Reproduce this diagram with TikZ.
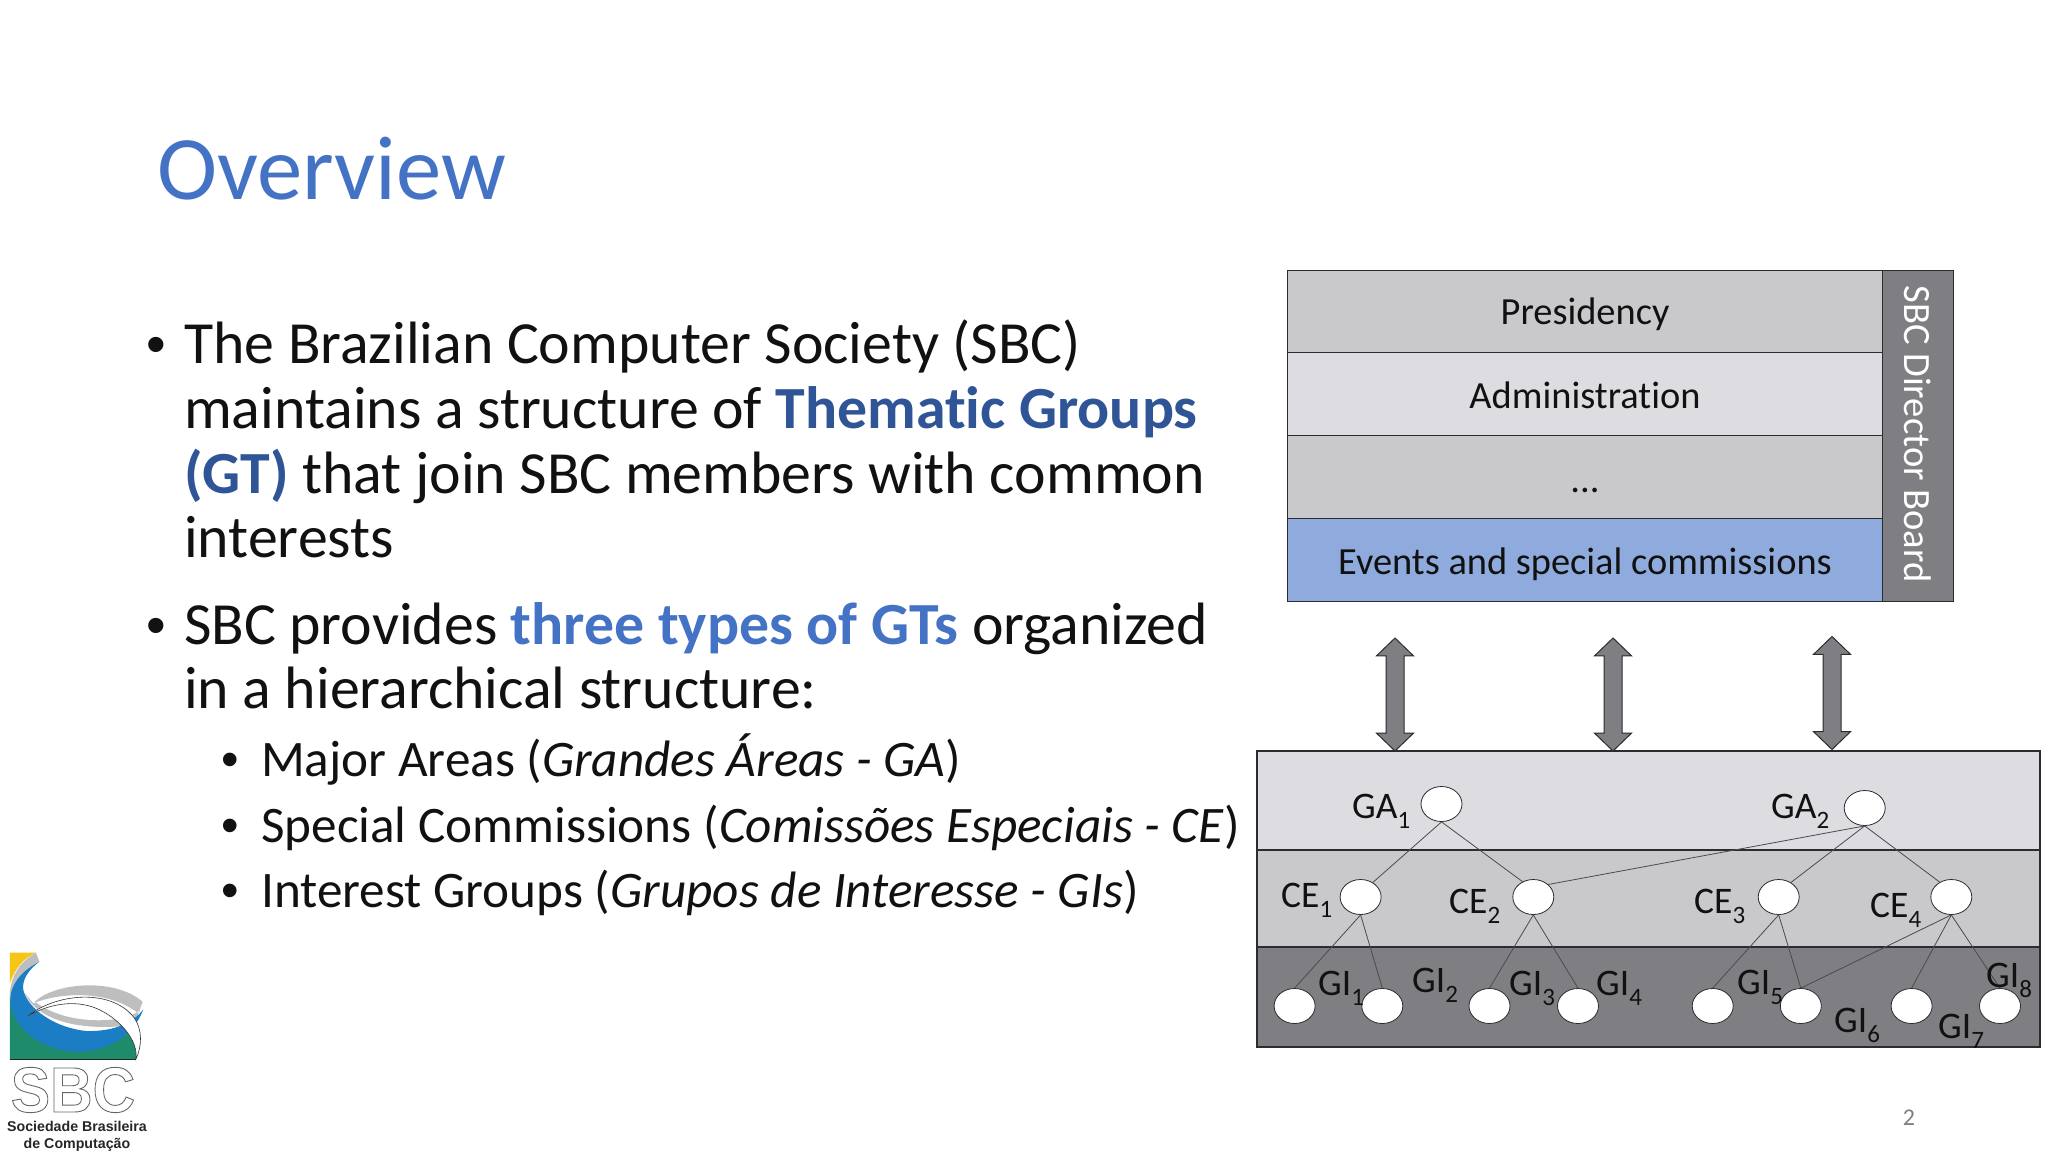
\documentclass[tikz,border=0pt]{standalone}
\usepackage{fontspec}
\setmainfont[Ligatures=NoCommon]{Carlito}
\newfontfamily\logofont{Liberation Sans}
\usetikzlibrary{shapes.geometric,shapes.arrows}
\definecolor{titleblue}{HTML}{4472C4}
\definecolor{darkblue}{HTML}{2F5597}
\definecolor{lightrow}{HTML}{DDDCE0}
\definecolor{midrow}{HTML}{C9C8CB}
\definecolor{darkrow}{HTML}{7F7E82}
\definecolor{eventsrow}{HTML}{8FAADC}
\definecolor{boxline}{HTML}{2B2B30}
\definecolor{ink}{HTML}{111111}
\definecolor{logoyellow}{HTML}{F5C518}
\definecolor{logoblue}{HTML}{1B7DC4}
\definecolor{logogreen}{HTML}{1E8C6A}
\definecolor{logogray}{HTML}{BEBEBE}
\newcommand{\lab}[2]{#1\raisebox{-.28em}{\fontsize{25}{25}\selectfont #2}}
\newcommand{\rowtext}[2]{\raisebox{-#1pt}[0pt][0pt]{#2}}
\tikzset{
  bodyline/.style={anchor=base west,inner sep=0pt,text=ink,font=\fontsize{59.8}{62}\selectfont},
  subline/.style={anchor=base west,inner sep=0pt,text=ink,font=\fontsize{51.2}{54}\selectfont},
  bigdot/.style={anchor=base west,inner sep=0pt,text=ink,font=\logofont\fontsize{56}{58}\selectfont},
  smalldot/.style={anchor=base west,inner sep=0pt,text=ink,font=\logofont\fontsize{50}{52}\selectfont},
  rowbox/.style={draw=boxline,line width=1pt,inner sep=0pt,text=ink,font=\fontsize{38.4}{42}\selectfont},
  levelbox/.style={draw=boxline,line width=1.2pt},
  bothways/.style={double arrow,draw=boxline,line width=1pt,fill=darkrow,inner sep=0pt,rotate=90,
    minimum height=113pt,double arrow head extend=9.5pt,double arrow tip angle=92},
  vertex/.style={ellipse,draw=boxline,line width=.8pt,fill=white,minimum width=41pt,minimum height=35pt,inner sep=0pt},
  tie/.style={draw=boxline!85,line width=.8pt},
  tag/.style={anchor=base west,inner sep=0pt,text=ink,font=\fontsize{37.5}{40}\selectfont}
}
\begin{document}
\begin{tikzpicture}[x=1pt,y=-1pt]
\useasboundingbox (0,0) rectangle (2048,1152);
\fill[white] (0,0) rectangle (2048,1152);
% title
\node[anchor=base west,inner sep=0pt,text=titleblue,font=\fontsize{90.7}{92}\selectfont] (title) at (157,199) {Overview};
% bullets
\node[bigdot] (b1) at (146,363) {•};
\node[bodyline] (l1) at (184,363) {The Brazilian Computer Society (SBC)};
\node[bodyline] (l2) at (184,428) {maintains a structure of \textcolor{darkblue}{\textbf{Thematic Groups}}};
\node[bodyline] (l3) at (184,493) {\textcolor{darkblue}{\textbf{(GT)}} that join SBC members with common};
\node[bodyline] (l4) at (184,557) {interests};
\node[bigdot] (b2) at (146,644) {•};
\node[bodyline] (l5) at (184,644) {SBC provides \textcolor{titleblue}{\textbf{three types of GTs}} organized};
\node[bodyline] (l6) at (184,708) {in a hierarchical structure:};
\node[smalldot] (b3) at (221,776) {•};
\node[subline] (s1) at (261,776) {Major Areas (\textit{Grandes Áreas - GA})};
\node[smalldot] (b4) at (221,842) {•};
\node[subline] (s2) at (261,842) {Special Commissions (\textit{Comissões Especiais - CE})};
\node[smalldot] (b5) at (221,907) {•};
\node[subline] (s3) at (261,907) {Interest Groups (\textit{Grupos de Interesse - GIs})};
% director board
\node[rowbox,fill=midrow,minimum width=595pt,minimum height=82pt,anchor=north west] (pres) at (1287,270) {\rowtext{13}{Presidency}};
\node[rowbox,fill=lightrow,minimum width=595pt,minimum height=83pt,anchor=north west] (admin) at (1287,352) {\rowtext{14}{Administration}};
\node[rowbox,fill=midrow,minimum width=595pt,minimum height=83pt,anchor=north west] (dots) at (1287,435) {\rowtext{15}{...}};
\node[rowbox,fill=eventsrow,minimum width=595pt,minimum height=83pt,anchor=north west] (events) at (1287,518) {\rowtext{14}{Events and special commissions}};
\node[rowbox,fill=darkrow,minimum width=71pt,minimum height=331pt,anchor=north west] (side) at (1882,270) {};
\node[rotate=-90,inner sep=0pt,text=white,font=\fontsize{38.6}{42}\selectfont] (sidetext) at (1918,434) {SBC Director Board};
% arrows
\node[bothways] (a1) at (1395,694.5) {\rule{0pt}{17pt}};
\node[bothways] (a2) at (1613,694.5) {\rule{0pt}{17pt}};
\node[bothways] (a3) at (1832,693) {\rule{0pt}{17pt}};
% levels
\draw[levelbox,fill=lightrow] (1257,751) rectangle (2040,850);
\draw[levelbox,fill=midrow] (1257,850) rectangle (2040,947);
\draw[levelbox,fill=darkrow] (1257,947) rectangle (2040,1047);
% vertices
\node[vertex] (GA1) at (1441.5,804) {};
\node[vertex] (GA2) at (1864.7,808) {};
\node[vertex] (CE1) at (1360.6,897) {};
\node[vertex] (CE2) at (1533.3,897) {};
\node[vertex] (CE3) at (1778.7,897) {};
\node[vertex] (CE4) at (1951.3,897) {};
\node[vertex] (GI1) at (1294.6,1006) {};
\node[vertex] (GI2) at (1382.3,1006) {};
\node[vertex] (GI3) at (1489.5,1006) {};
\node[vertex] (GI4) at (1578,1006) {};
\node[vertex] (GI5) at (1712.7,1006) {};
\node[vertex] (GI6) at (1800.8,1006) {};
\node[vertex] (GI7) at (1911.6,1006) {};
\node[vertex] (GI8) at (2000,1006) {};
% connectors
\draw[tie] (GA1.south) -- (CE1.50);
\draw[tie] (GA1.south) -- (CE2.125);
\draw[tie] (GA2.south) -- (CE2.40);
\draw[tie] (GA2.south) -- (CE3.50);
\draw[tie] (GA2.south) -- (CE4.128);
\draw[tie] (CE1.south) -- (GI1.north);
\draw[tie] (CE1.south) -- (GI2.north);
\draw[tie] (CE2.south) -- (GI3.north);
\draw[tie] (CE2.south) -- (GI4.north);
\draw[tie] (CE3.south) -- (GI5.north);
\draw[tie] (CE3.south) -- (GI6.north);
\draw[tie] (CE4.south) -- (GI6.north);
\draw[tie] (CE4.south) -- (GI7.north);
\draw[tie] (CE4.south) -- (GI8.north);
% labels
\node[tag] (tGA1) at (1352,818) {\lab{GA}{1}};
\node[tag] (tGA2) at (1771,818) {\lab{GA}{2}};
\node[tag] (tCE1) at (1281,907) {\lab{CE}{1}};
\node[tag] (tCE2) at (1449,913) {\lab{CE}{2}};
\node[tag] (tCE3) at (1694,913) {\lab{CE}{3}};
\node[tag] (tCE4) at (1870,917) {\lab{CE}{4}};
\node[tag] (tGI1) at (1318,995) {\lab{GI}{1}};
\node[tag] (tGI2) at (1412,992) {\lab{GI}{2}};
\node[tag] (tGI3) at (1509,995) {\lab{GI}{3}};
\node[tag] (tGI4) at (1596,995) {\lab{GI}{4}};
\node[tag] (tGI5) at (1737,994) {\lab{GI}{5}};
\node[tag] (tGI6) at (1834,1032) {\lab{GI}{6}};
\node[tag] (tGI7) at (1938,1038) {\lab{GI}{7}};
\node[tag] (tGI8) at (1986,987) {\lab{GI}{8}};
% page number
\node[inner sep=0pt,text=darkrow,font=\fontsize{24}{26}\selectfont] (page) at (1909,1118) {2};
% logo
\begin{scope}[shift={(0,930)},x=0.3333pt,y=-0.3333pt]
  \fill[logogreen] (30,200) -- (30,387) -- (408,387) -- (408,280) -- cycle;
  \fill[logoyellow] (30,68) -- (108,68) .. controls (70,85) and (45,115) .. (30,160) -- cycle;
  \fill[logogray] (108,68) .. controls (60,95) and (35,135) .. (30,185) -- (30,215) .. controls (45,150) and (75,115) .. (118,95) -- cycle;
  \fill[white] (32,215) -- (118,95) -- (200,200) -- (400,290) -- (408,300) -- (250,320) -- (60,260) -- cycle;
  \fill[logogray] (75,190) .. controls (100,250) and (200,310) .. (400,285) -- (420,240) .. controls (380,280) and (200,290) .. (105,215) .. controls (160,160) and (340,140) .. (428,215) -- (415,250) .. controls (320,175) and (170,190) .. (100,220) -- cycle;
  \fill[logoblue] (118,95) .. controls (50,130) and (25,180) .. (32,225) .. controls (50,310) and (140,365) .. (235,365) .. controls (320,365) and (400,320) .. (430,238) .. controls (395,285) and (330,305) .. (260,303) .. controls (170,295) and (85,240) .. (70,180) .. controls (65,150) and (85,120) .. (118,95) -- cycle;
  \fill[white] (85,257) .. controls (170,190) and (330,175) .. (400,260) .. controls (430,300) and (425,350) .. (408,387) .. controls (415,330) and (360,270) .. (300,240) .. controls (240,210) and (160,215) .. (85,257) -- cycle;
  \draw[black!80,line width=.6pt] (85,257) .. controls (170,190) and (330,175) .. (400,260) .. controls (430,300) and (425,350) .. (408,387) .. controls (415,330) and (360,270) .. (300,240) .. controls (240,210) and (160,215) .. (85,257) -- cycle;
  \draw[black!85,line width=1pt] (30,387) -- (408,387);
\end{scope}
\node[inner sep=0pt,anchor=base,font=\logofont\bfseries\fontsize{64}{64}\selectfont] (sbc) at (73,1112)
  {\special{pdf:literal direct 1 Tr 0.9 w 0.4 G}\scalebox{.92}[1]{SBC}\special{pdf:literal direct 0 Tr}};
\node[inner sep=0pt,anchor=base,text=black!85,font=\logofont\bfseries\fontsize{14.2}{16}\selectfont] (so1) at (77,1131) {Sociedade Brasileira};
\node[inner sep=0pt,anchor=base,text=black!85,font=\logofont\bfseries\fontsize{14.2}{16}\selectfont] (so2) at (77,1148) {de Computação};
\end{tikzpicture}
\end{document}
